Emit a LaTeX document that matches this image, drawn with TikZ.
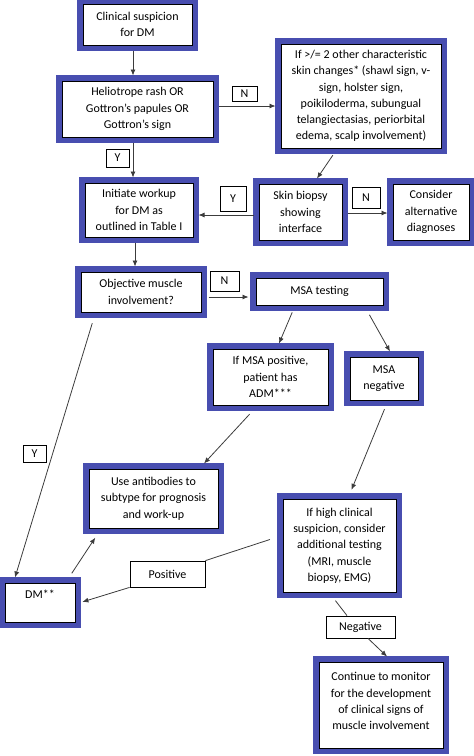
\documentclass[tikz,border=0pt]{standalone}
\usepackage{fontspec}
\setmainfont{Carlito}
\usetikzlibrary{arrows.meta}
\definecolor{boxblue}{RGB}{72,78,176}
\definecolor{linegray}{RGB}{60,60,60}
\tikzset{
  bbox/.style={draw=black, line width=0.9pt, fill=white, align=center,
    inner sep=0pt, outer sep=5.5pt,
    preaction={draw=boxblue, line width=11.5pt},
    font=\fontsize{12}{16.3}\selectfont},
  lbl/.style={draw=black, line width=0.8pt, fill=white, inner sep=0pt,
    font=\fontsize{12}{14}\selectfont},
  arr/.style={draw=linegray, line width=0.8pt, -{Latex[length=6pt,width=5pt]}},
  ln/.style={draw=linegray, line width=0.8pt}
}
\begin{document}
\begin{tikzpicture}[x=1pt,y=-1pt]
\useasboundingbox (0,0) rectangle (474,756);
% boxes
\node[bbox, minimum width=109pt, minimum height=41pt] (b1) at (137.5,24.5) {Clinical suspicion\\for DM};
\node[bbox, minimum width=151pt, minimum height=56pt] (b2) at (137.5,109) {Heliotrope rash OR\\Gottron’s papules OR\\Gottron’s sign};
\node[bbox, minimum width=160pt, minimum height=104pt] (b3) at (361,96) {If >/= 2 other characteristic\\skin changes* (shawl sign, v-\\sign, holster sign,\\poikiloderma, subungual\\telangiectasias, periorbital\\edema, scalp involvement)};
\node[bbox, minimum width=108pt, minimum height=54pt] (b4) at (139,210) {Initiate workup\\for DM as\\outlined in Table I};
\node[bbox, minimum width=83pt, minimum height=56pt] (b5) at (300.5,212) {Skin biopsy\\showing\\interface};
\node[bbox, minimum width=76pt, minimum height=56pt] (b6) at (431,212) {Consider\\alternative\\diagnoses};
\node[bbox, minimum width=120pt, minimum height=40pt] (b7) at (141,292) {Objective muscle\\involvement?};
\node[bbox, minimum width=127pt, minimum height=27pt] (b8) at (319.5,291.5) {MSA testing};
\node[bbox, minimum width=115pt, minimum height=56pt] (b9) at (270.5,377) {If MSA positive,\\patient has\\ADM***};
\node[bbox, minimum width=68pt, minimum height=43pt] (b10) at (384,378.5) {MSA\\negative};
\node[bbox, minimum width=129pt, minimum height=59pt] (b11) at (153.5,498.5) {Use antibodies to\\subtype for prognosis\\and work-up};
\node[bbox, minimum width=113pt, minimum height=93pt] (b12) at (339.5,545.5) {If high clinical\\suspicion, consider\\additional testing\\(MRI, muscle\\biopsy, EMG)};
\node[bbox, minimum width=70pt, minimum height=39pt, text depth=16pt] (dm) at (40,602.5) {DM**};
\node[bbox, minimum width=124pt, minimum height=86pt, text depth=8pt] (b13) at (381,705) {Continue to monitor\\for the development\\of clinical signs of\\muscle involvement};
% labels
\node[lbl, minimum width=25pt, minimum height=15pt] (n1) at (244.5,93.5) {N};
\node[lbl, minimum width=23pt, minimum height=18pt] (y1) at (117.5,158) {Y};
\node[lbl, minimum width=26pt, minimum height=25pt] (y2) at (233,198.5) {Y};
\node[lbl, minimum width=28pt, minimum height=21pt] (n2) at (366,197.5) {N};
\node[lbl, minimum width=29pt, minimum height=20pt] (n3) at (224.5,281) {N};
\node[lbl, minimum width=23pt, minimum height=17pt] (y3) at (34.5,453.5) {Y};
\node[lbl, minimum width=75pt, minimum height=26pt] (pos) at (167.5,574) {Positive};
\node[lbl, minimum width=69pt, minimum height=22pt] (neg) at (360.5,627) {Negative};
% connectors
\draw[arr] ([xshift=-4.5pt]b1.south) -- ([xshift=-4.5pt]b1.south |- b2.north);
\draw[arr] ([yshift=3pt]b2.east) -- ([yshift=3pt]b2.east -| b3.west);
\draw[arr] ([xshift=-4.5pt]b2.south) -- ([xshift=-4.5pt]b2.south |- b4.north);
\draw[arr, shorten <=2pt] ([xshift=-27pt]b3.south) -- ([xshift=16.5pt]b5.north);
\draw[arr] ([yshift=-3pt]b5.west) -- ([yshift=-3pt]b5.west -| b4.east);
\draw[arr] ([yshift=-1pt]b5.east) -- ([yshift=-1pt]b5.east -| b6.west);
\draw[arr] ([xshift=-4pt]b4.south) -- ([xshift=-4pt]b4.south |- b7.north);
\draw[arr] ([yshift=-5pt,xshift=2pt]b7.east) -- ([yshift=-5pt,xshift=-2pt]b7.east -| b8.west);
\draw[arr, shorten <=2pt] ([xshift=-26.5pt]b8.south) -- ([xshift=8.5pt]b9.north);
\draw[arr, shorten <=5pt] ([xshift=47.5pt]b8.south) -- ([xshift=6pt]b10.north);
\draw[arr, shorten <=5pt] ([xshift=-17.5pt]b9.south) -- ([xshift=50.5pt]b11.north);
\draw[arr, shorten <=4pt, shorten >=4pt] ([xshift=2pt]b10.south) -- ([xshift=10.5pt]b12.north);
\draw[arr, shorten <=6pt] ([xshift=-47pt]b7.south) -- ([xshift=-25pt]dm.north);
\draw[arr, shorten <=5pt, shorten >=5pt] ([xshift=29pt]dm.north) -- ([xshift=-55.5pt]b11.south);
\draw[ln, shorten <=8pt] ([yshift=8.5pt]b12.west) -- (pos.north east);
\draw[arr, shorten >=2pt] (pos.south west) -- (dm.east);
\draw[ln, shorten <=4pt] ([xshift=-6.5pt]b12.south) -- ([xshift=-13.5pt]neg.north);
\draw[arr] ([xshift=7.5pt]neg.south) -- ([xshift=6pt]b13.north);
\end{tikzpicture}
\end{document}
